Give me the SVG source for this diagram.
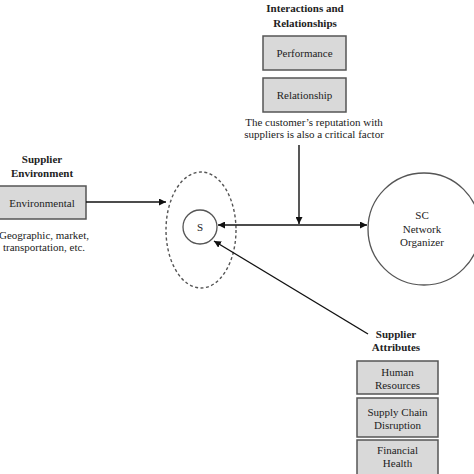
<svg xmlns="http://www.w3.org/2000/svg" width="474" height="474" viewBox="0 0 474 474">
<defs>
<marker id="ah" viewBox="0 0 10 10" refX="10" refY="5" markerWidth="7" markerHeight="7" orient="auto-start-reverse" markerUnits="userSpaceOnUse">
<path d="M0,0 L10,5 L0,10 z" fill="#111"/>
</marker>
<style>
text{font-family:"Liberation Serif","Times New Roman",serif;font-size:11px;fill:#222;text-anchor:middle}
.b{font-weight:bold}
.box{fill:#d9d9d9;stroke:#555;stroke-width:1.5}
.c{fill:#fff;stroke:#555;stroke-width:1.3}
.ln{stroke:#111;stroke-width:1.4;fill:none}
</style>
</defs>
<rect width="474" height="474" fill="#fff"/>
<g id="interactions">
<text class="b" x="305" y="12">Interactions and</text>
<text class="b" x="305" y="27">Relationships</text>
</g>
<g id="performance"><rect class="box" x="263" y="36" width="83" height="34"/><text x="304.5" y="57">Performance</text></g>
<g id="relationship"><rect class="box" x="263" y="78" width="83" height="34"/><text x="304.5" y="99">Relationship</text></g>
<g id="reputation">
<text x="314" y="126">The customer’s reputation with</text>
<text x="314" y="138">suppliers is also a critical factor</text>
</g>
<g id="supplier-environment">
<text class="b" x="42" y="163">Supplier</text>
<text class="b" x="42" y="177">Environment</text>
</g>
<g id="environmental"><rect class="box" x="-2" y="186" width="88" height="33"/><text x="42" y="207">Environmental</text></g>
<g id="geo">
<text x="44" y="239">Geographic, market,</text>
<text x="44" y="251">transportation, etc.</text>
</g>
<g id="boundary"><ellipse cx="201" cy="230" rx="35" ry="58" fill="none" stroke="#555" stroke-width="1.4" stroke-dasharray="3,2.5"/></g>
<g id="S"><circle class="c" cx="200" cy="227" r="17"/><text x="200" y="231">S</text></g>
<g id="sc"><circle class="c" cx="424" cy="229" r="56"/>
<text x="422" y="219">SC</text><text x="422" y="233">Network</text><text x="422" y="246">Organizer</text></g>
<g id="supplier-attributes">
<text class="b" x="396" y="338">Supplier</text>
<text class="b" x="396" y="351">Attributes</text>
</g>
<g id="human"><rect class="box" x="357" y="361" width="81" height="33"/><text x="397.5" y="376">Human</text><text x="397.5" y="389">Resources</text></g>
<g id="disruption"><rect class="box" x="357" y="398" width="81" height="39"/><text x="397.5" y="416">Supply Chain</text><text x="397.5" y="429">Disruption</text></g>
<g id="financial"><rect class="box" x="357" y="440" width="81" height="40"/><text x="397.5" y="454">Financial</text><text x="397.5" y="467">Health</text></g>
<g id="connectors">
<line class="ln" x1="86" y1="202" x2="166" y2="202" marker-end="url(#ah)"/>
<line class="ln" x1="218" y1="225" x2="367" y2="225" marker-start="url(#ah)" marker-end="url(#ah)"/>
<line class="ln" x1="299" y1="145" x2="299" y2="224" marker-end="url(#ah)"/>
<line class="ln" x1="368" y1="334" x2="214" y2="241" marker-end="url(#ah)"/>
</g>
</svg>
